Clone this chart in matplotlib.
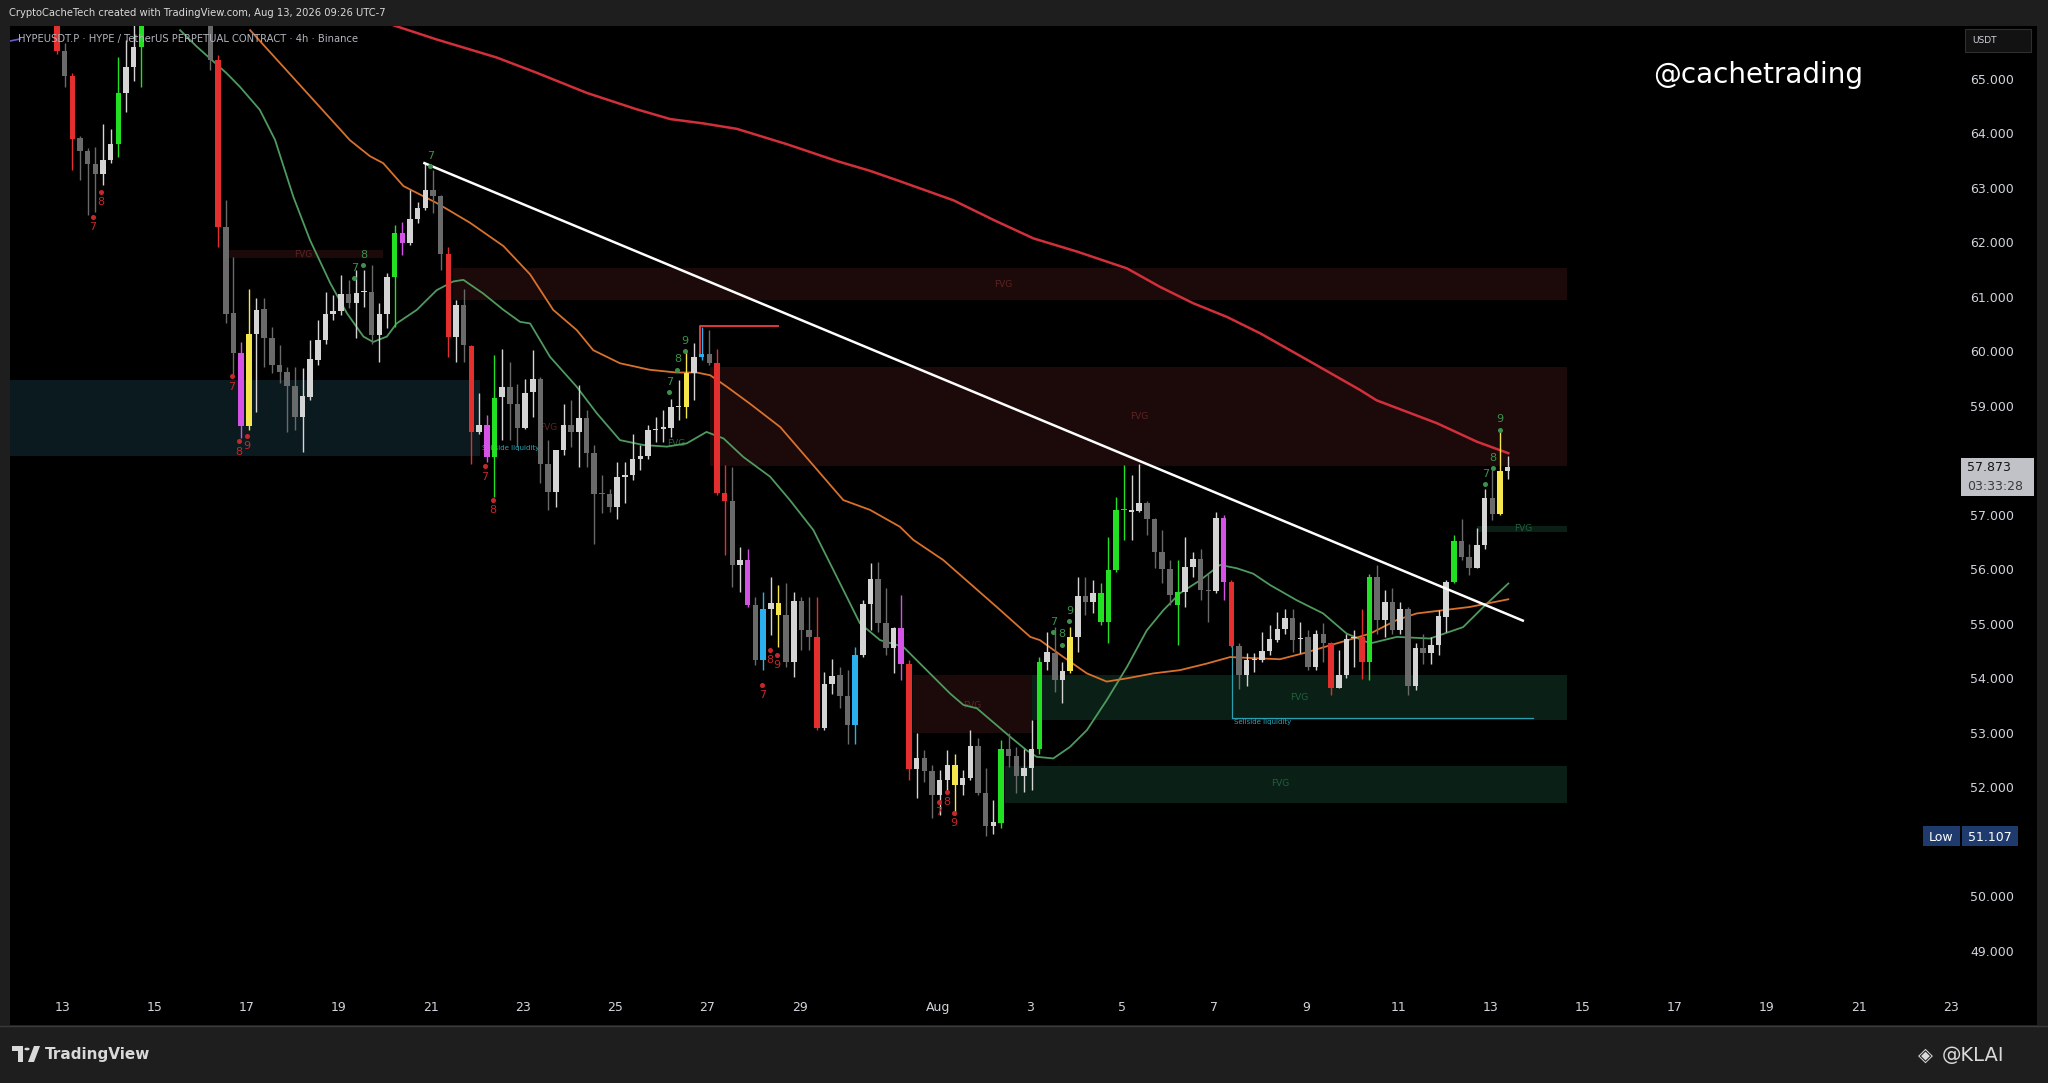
import numpy as np
import matplotlib
matplotlib.use("Agg")
import matplotlib.pyplot as plt
from matplotlib.patches import Rectangle, Circle, Polygon
from matplotlib.transforms import blended_transform_factory

plt.rcParams['font.family'] = ['DejaVu Sans']

# ------------------------------------------------------------------ data
# 4h candles, first candle index -1 (Jul 12 21:00), time in days since Jul 13 00:00
first_k = -1
open_ = [66.60, 65.50, 65.05, 63.91, 63.68, 63.43, 63.25, 63.51, 63.81, 64.73,
         65.22, 65.58, 66.60, 67.00, 66.80, 67.20, 66.90, 66.50, 66.70, 66.30,
         66.10, 65.34, 62.28, 60.71, 59.97, 58.62, 60.32, 60.77, 60.24, 59.75,
         59.62, 59.36, 58.80, 59.17, 59.84, 60.21, 60.68, 60.74, 61.05, 60.89,
         61.08, 61.09, 60.30, 60.69, 61.37, 62.17, 61.99, 62.43, 62.62, 62.95,
         62.84, 61.78, 60.27, 60.84, 60.10, 58.52, 58.65, 58.06, 59.17, 59.35,
         59.03, 58.60, 59.26, 59.50, 57.93, 57.42, 58.18, 58.65, 58.52, 58.77,
         58.13, 57.39, 57.38, 57.15, 57.70, 57.73, 58.03, 58.08, 58.55, 58.58,
         58.60, 58.97, 58.98, 59.61, 59.90, 59.95, 59.79, 57.40, 57.26, 56.08,
         56.17, 55.34, 54.33, 55.28, 55.39, 55.16, 54.30, 55.42, 54.89, 54.75,
         53.09, 53.89, 54.06, 53.67, 53.14, 54.43, 55.37, 55.82, 55.02, 54.55,
         54.92, 54.27, 52.33, 52.53, 52.30, 51.86, 52.13, 52.41, 52.04, 52.18,
         52.76, 51.89, 51.29, 51.35, 52.71, 52.57, 52.21, 52.35, 52.71, 54.30,
         54.46, 53.97, 54.13, 54.75, 55.51, 55.40, 55.56, 55.04, 55.99, 57.09,
         57.06, 57.07, 57.22, 56.92, 56.32, 56.00, 55.34, 55.59, 56.05, 56.19,
         55.62, 55.60, 56.95, 55.76, 54.60, 54.06, 54.33, 54.33, 54.50, 54.71,
         54.90, 55.10, 54.72, 54.75, 54.21, 54.81, 54.64, 53.83, 54.06, 54.74,
         54.75, 54.30, 55.86, 55.07, 55.40, 54.88, 55.28, 53.86, 54.55, 54.47,
         54.61, 55.13, 55.77, 56.52, 56.22, 56.03, 56.44, 57.30, 57.02, 57.81]
high = [66.80, 65.65, 65.10, 63.94, 63.72, 63.75, 64.16, 64.08, 65.40, 65.71,
        66.00, 66.90, 67.20, 67.40, 67.50, 67.60, 67.10, 66.90, 66.90, 66.60,
        66.30, 65.43, 62.77, 61.73, 60.17, 61.15, 60.97, 60.97, 60.45, 60.11,
        59.71, 59.71, 59.69, 60.21, 60.57, 61.09, 61.03, 61.40, 61.31, 61.49,
        61.49, 61.58, 60.88, 61.43, 62.32, 62.37, 62.96, 62.74, 63.46, 63.32,
        62.87, 61.92, 60.94, 61.15, 60.11, 59.23, 58.83, 59.93, 60.05, 59.81,
        59.40, 59.50, 60.02, 59.53, 58.37, 58.19, 59.04, 59.10, 59.38, 58.92,
        58.28, 57.73, 57.48, 57.97, 57.97, 58.49, 58.28, 58.65, 58.80, 58.92,
        59.13, 59.47, 59.99, 60.15, 60.45, 60.39, 60.05, 57.91, 57.88, 56.41,
        56.38, 55.49, 55.59, 55.86, 55.71, 55.74, 55.59, 55.50, 55.50, 55.50,
        54.12, 54.36, 54.21, 54.15, 54.58, 55.43, 56.11, 56.14, 55.65, 54.95,
        55.53, 54.33, 52.99, 52.68, 52.41, 52.32, 52.68, 52.62, 52.32, 53.05,
        52.90, 52.35, 51.77, 52.86, 52.99, 52.74, 52.71, 53.23, 54.40, 54.85,
        54.95, 54.30, 54.95, 55.86, 55.86, 55.80, 55.74, 56.60, 57.33, 57.91,
        57.73, 57.94, 57.26, 56.95, 56.72, 56.17, 56.17, 56.59, 56.32, 56.38,
        55.92, 57.06, 57.00, 55.80, 54.64, 54.46, 54.46, 54.85, 54.98, 55.22,
        55.28, 55.28, 55.04, 54.88, 54.88, 55.01, 54.67, 54.52, 54.82, 54.88,
        55.28, 55.92, 56.08, 55.62, 55.65, 55.40, 55.31, 54.64, 54.82, 54.76,
        55.25, 55.80, 56.63, 56.93, 56.47, 56.75, 57.48, 57.88, 58.52, 58.07]
low = [65.45, 64.85, 63.33, 63.14, 62.50, 62.56, 63.05, 63.45, 63.57, 64.39,
       64.95, 64.85, 66.30, 66.50, 66.60, 66.70, 66.30, 66.20, 66.10, 66.00,
       65.16, 61.92, 60.51, 59.53, 58.40, 58.55, 58.89, 59.72, 59.60, 59.41,
       58.52, 58.55, 58.16, 59.10, 59.75, 60.14, 60.57, 60.66, 60.79, 60.24,
       60.82, 60.14, 59.81, 60.42, 60.45, 61.76, 61.95, 62.35, 62.59, 62.53,
       61.49, 59.90, 59.81, 59.81, 57.94, 58.49, 57.97, 57.33, 58.37, 58.37,
       58.25, 58.58, 58.80, 57.58, 57.09, 57.15, 58.10, 58.25, 57.88, 57.88,
       56.47, 57.03, 57.06, 56.93, 57.21, 57.64, 57.82, 58.03, 58.34, 58.34,
       58.43, 58.74, 58.77, 59.10, 59.84, 59.75, 57.36, 56.26, 55.68, 55.59,
       55.31, 54.25, 54.15, 54.80, 54.58, 54.21, 54.03, 54.52, 54.52, 53.05,
       53.05, 53.72, 53.45, 52.80, 52.80, 54.40, 54.88, 54.85, 54.43, 54.09,
       53.97, 52.13, 51.80, 52.10, 51.43, 51.49, 51.89, 51.49, 51.86, 52.13,
       51.86, 51.107, 51.15, 51.25, 52.38, 51.89, 51.92, 51.95, 52.62, 54.15,
       53.75, 53.54, 54.09, 54.49, 55.16, 55.19, 54.98, 54.64, 55.95, 56.54,
       56.54, 57.05, 56.63, 56.02, 55.74, 55.34, 54.61, 55.31, 55.86, 55.43,
       55.04, 55.56, 55.43, 54.58, 53.81, 53.85, 54.12, 54.30, 54.43, 54.66,
       54.82, 54.49, 54.46, 54.15, 54.15, 54.30, 53.69, 53.82, 54.00, 54.21,
       53.98, 53.97, 54.82, 54.76, 54.82, 54.82, 53.69, 53.78, 54.27, 54.27,
       54.43, 54.85, 55.74, 56.17, 55.89, 56.02, 56.38, 56.90, 56.99, 57.65]
close = [65.50, 65.05, 63.89, 63.68, 63.43, 63.25, 63.51, 63.81, 64.73, 65.22,
         65.58, 66.60, 67.00, 66.80, 67.20, 66.90, 66.50, 66.70, 66.30, 66.10,
         65.34, 62.28, 60.69, 59.97, 58.62, 60.32, 60.76, 60.24, 59.75, 59.62,
         59.36, 58.80, 59.18, 59.85, 60.21, 60.68, 60.74, 61.05, 60.89, 61.06,
         61.09, 60.30, 60.69, 61.37, 62.17, 61.99, 62.43, 62.62, 62.95, 62.84,
         61.78, 60.27, 60.84, 60.11, 58.52, 58.65, 58.06, 59.15, 59.35, 59.04,
         58.60, 59.24, 59.50, 57.93, 57.42, 58.18, 58.65, 58.52, 58.77, 58.13,
         57.39, 57.38, 57.15, 57.70, 57.73, 58.03, 58.08, 58.55, 58.58, 58.60,
         58.98, 59.00, 59.61, 59.90, 59.95, 59.79, 57.40, 57.26, 56.08, 56.17,
         55.34, 54.33, 55.28, 55.39, 55.16, 54.30, 55.42, 54.89, 54.75, 53.09,
         53.89, 54.04, 53.67, 53.14, 54.43, 55.37, 55.82, 55.02, 54.55, 54.92,
         54.27, 52.33, 52.53, 52.30, 51.86, 52.13, 52.41, 52.04, 52.18, 52.76,
         51.89, 51.29, 51.37, 52.71, 52.57, 52.21, 52.35, 52.71, 54.30, 54.49,
         53.97, 54.13, 54.75, 55.51, 55.40, 55.56, 55.04, 55.99, 57.09, 57.08,
         57.08, 57.22, 56.92, 56.32, 56.00, 55.53, 55.59, 56.05, 56.19, 55.62,
         55.60, 56.95, 55.76, 54.60, 54.06, 54.33, 54.36, 54.50, 54.72, 54.91,
         55.10, 54.71, 54.73, 54.21, 54.81, 54.64, 53.83, 54.06, 54.73, 54.76,
         54.30, 55.86, 55.07, 55.40, 54.88, 55.28, 53.86, 54.55, 54.47, 54.61,
         55.14, 55.77, 56.52, 56.22, 56.03, 56.44, 57.30, 57.02, 57.81, 57.873]
# candle colour category: d=bear grey, u=bull light, r=red, g=green, m=magenta, y=yellow, b=blue
kinds = ("rdrddduugu" "ugududdudd" "drddmyuddd" "dduuuuuudu" "uduugmuuud"
         "drudrumgud" "duudduudud" "ddduuuuuuu" "uuyubdrrdu" "mdbuyduddr"
         "uuddbuuddu" "mrudduuyuu" "ddugdduugu" "duyudugggg" "uuddddguud"
         "dumrduuuuu" "udududruuu" "rgdudududu" "uugdduudyu")

# moving averages (days, price)
green_t = [2.55, 2.91, 3.56, 3.85, 4.28, 4.61, 5.01, 5.37, 5.81, 6.17, 6.53, 6.74, 7.04,
           7.25, 7.69, 8.12, 8.48, 8.70, 9.13, 9.57, 9.93, 10.15, 10.58, 11.16, 11.60,
           12.10, 12.61, 13.12, 13.55, 13.98, 14.35, 14.78, 15.36, 15.79, 16.30, 16.81,
           17.31, 17.75, 18.25, 18.76, 19.27, 19.56, 19.85, 20.28, 20.57, 20.93, 21.15,
           21.51, 21.87, 22.24, 22.67, 23.11, 23.54, 23.90, 24.26, 24.70, 25.13, 25.49,
           25.85, 26.22, 26.80, 27.37, 27.88, 28.39, 28.97, 29.69, 30.41, 30.85, 31.39]
green_p = [65.89, 65.59, 65.10, 64.85, 64.43, 63.88, 62.83, 62.04, 61.25, 60.70, 60.27, 60.17, 60.27,
           60.51, 60.76, 61.12, 61.28, 61.31, 61.06, 60.76, 60.54, 60.51, 59.90, 59.35, 58.86,
           58.37, 58.28, 58.25, 58.31, 58.52, 58.40, 58.06, 57.70, 57.27, 56.72, 55.86,
           55.01, 54.70, 54.58, 54.15, 53.72, 53.51, 53.45, 53.14, 52.93, 52.68, 52.56,
           52.53, 52.74, 53.05, 53.60, 54.21, 54.88, 55.25, 55.56, 55.80, 56.08, 56.02,
           55.92, 55.71, 55.43, 55.19, 54.82, 54.64, 54.76, 54.73, 54.94, 55.31, 55.74]
orange_t = [4.07, 6.24, 6.67, 6.96, 7.40, 8.12, 8.84, 9.57, 10.15, 10.65, 11.16, 11.52, 12.10,
            12.75, 13.33, 13.77, 14.06, 14.42, 14.92, 15.58, 16.95, 17.53, 18.18, 18.47,
            19.12, 19.70, 20.28, 21.01, 21.22, 21.73, 22.24, 22.67, 23.11, 23.68, 24.26,
            24.84, 25.35, 25.85, 26.43, 26.94, 27.66, 28.39, 28.97, 29.40, 29.98, 30.56, 31.39]
orange_p = [65.89, 63.87, 63.58, 63.45, 63.03, 62.72, 62.36, 61.93, 61.41, 60.76, 60.39, 60.02, 59.78,
            59.66, 59.61, 59.61, 59.56, 59.35, 59.04, 58.61, 57.27, 57.09, 56.78, 56.54,
            56.17, 55.74, 55.31, 54.76, 54.70, 54.39, 54.09, 53.94, 54.00, 54.09, 54.15,
            54.27, 54.39, 54.37, 54.35, 54.46, 54.64, 54.82, 55.07, 55.19, 55.25, 55.31, 55.45]
red_t = [6.00, 7.22, 8.12, 9.42, 10.29, 11.38, 12.46, 13.19, 13.91, 14.64, 15.72, 16.81, 17.53,
         18.11, 19.34, 20.21, 21.08, 22.02, 23.11, 23.83, 24.55, 25.28, 26.00, 27.09, 28.17,
         28.53, 29.84, 30.71, 31.39]
red_p = [66.35, 65.97, 65.72, 65.39, 65.11, 64.74, 64.44, 64.26, 64.18, 64.08, 63.80, 63.49, 63.31,
         63.14, 62.77, 62.41, 62.07, 61.83, 61.52, 61.18, 60.88, 60.63, 60.33, 59.81, 59.29,
         59.10, 58.68, 58.34, 58.13]

# trend line
trend_t = [7.83, 31.73]
trend_p = [63.46, 55.05]

# FVG / liquidity zones
zone_t0 = [8.47, 14.06, 3.60, -1.144, 21.04, 18.46, 20.46, 30.71]
zone_t1 = [32.67, 32.67, 6.96, 9.06, 32.67, 21.04, 32.67, 32.67]
zone_lo = [60.94, 57.90, 61.71, 58.07, 53.24, 52.99, 51.71, 56.69]
zone_hi = [61.53, 59.72, 61.86, 59.47, 54.06, 54.06, 52.39, 56.80]
zone_kind = ['r', 'r', 'r', 't', 'g', 'r', 'g', 'g']
fvg_label_t = [20.42, 23.37, 5.22, 26.86, 26.44, 31.72, 19.74, 10.54, 13.33]
fvg_label_p = [61.23, 58.80, 61.77, 53.65, 52.07, 56.74, 53.51, 58.61, 58.30]
fvg_label_kind = ['r', 'r', 'r', 'g', 'g', 'g', 'r', 'r', 'g']
liq_label_t = [9.10, 25.44]
liq_label_p = [58.22, 53.20]
liq_t = [25.38, 25.38, 31.93]
liq_p = [54.61, 53.27, 53.27]
level_t = [13.84, 13.84, 15.53]
level_p = [59.97, 60.46, 60.46]

# sequential counts
td_red_txt = ['7', '8', '7', '8', '9', '7', '8', '7', '8', '9', '7', '8', '9']
td_red_t = [0.65, 0.83, 3.67, 3.82, 4.00, 9.17, 9.34, 15.19, 15.36, 15.51, 19.03, 19.20, 19.36]
td_red_p = [62.28, 62.74, 59.35, 58.16, 58.26, 57.70, 57.09, 53.69, 54.33, 54.24, 51.55, 51.73, 51.34]
td_grn_txt = ['7', '8', '7', '7', '8', '9', '7', '8', '9', '7', '8', '9']
td_grn_t = [6.33, 6.53, 7.98, 13.17, 13.35, 13.51, 21.51, 21.69, 21.86, 30.89, 31.05, 31.21]
td_grn_p = [61.53, 61.77, 63.58, 59.44, 59.85, 60.19, 55.04, 54.81, 55.24, 57.75, 58.05, 58.75]

date_tick_days = [0, 2, 4, 6, 8, 10, 12, 14, 16, 19, 21, 23, 25, 27, 29, 31, 33, 35, 37, 39, 41]
date_tick_labels = ['13', '15', '17', '19', '21', '23', '25', '27', '29', 'Aug', '3', '5', '7',
                    '9', '11', '13', '15', '17', '19', '21', '23']
price_ticks = list(range(49, 66))
hidden_price_ticks = [51, 58]          # covered by the Low / last-price labels
last_price = 57.873
countdown = '03:33:28'
low_price = 51.107

# ------------------------------------------------------------------ layout
W, H = 2048, 1083
L, R, T, B = 10, 2037, 26, 1025
fig = plt.figure(figsize=(W / 100, H / 100), dpi=100, facecolor='#1e1e1e')
ax = fig.add_axes([L / W, 1 - B / H, (R - L) / W, (B - T) / H])
ax.set_facecolor('#000000')
ax.set_xlim(-1.144, 42.87)
ax.set_ylim(47.64, 65.967)
for s in ax.spines.values():
    s.set_visible(False)


def fx(px):
    return (px - L) / (R - L)


def fy(py):
    return (B - py) / (B - T)


trans = blended_transform_factory(ax.transAxes, ax.transData)

# zones
zone_fc = {'r': '#1c0909', 'g': '#0a1f15', 't': '#0b1a1e'}
for t0, t1, lo, hi, k in zip(zone_t0, zone_t1, zone_lo, zone_hi, zone_kind):
    ax.add_patch(Rectangle((t0, lo), t1 - t0, hi - lo, facecolor=zone_fc[k],
                           edgecolor='none', zorder=1))
lab_col = {'r': '#5e2323', 'g': '#21613d'}
for t, p, k in zip(fvg_label_t, fvg_label_p, fvg_label_kind):
    ax.text(t, p, 'FVG', color=lab_col[k], fontsize=6.5, ha='center', va='center', zorder=2)
for t, p in zip(liq_label_t, liq_label_p):
    ax.text(t, p, 'Sellside liquidity', color='#2aa6b8', fontsize=5, ha='left',
            va='center', zorder=2)
ax.plot(liq_t, liq_p, color='#2a9fb0', lw=0.9, zorder=2)
ax.plot(level_t, level_p, color='#e03a3a', lw=1.4, zorder=2)

# moving averages
ax.plot(green_t, green_p, color='#4f9a5f', lw=1.3, zorder=3)
ax.plot(orange_t, orange_p, color='#d8712c', lw=1.3, zorder=3)
ax.plot(red_t, red_p, color='#d22f3c', lw=1.8, zorder=3)

# candles
COL = {'d': '#6a6a6a', 'u': '#d4d4d4', 'r': '#e3302e', 'g': '#22e022',
       'm': '#d552e6', 'y': '#f4e64b', 'b': '#2ab0ec'}
n = len(close)
k_idx = np.arange(first_k, first_k + n)
xt = (4 * k_idx + 1) / 24.0
o = np.array(open_)
h = np.array(high)
lo_ = np.array(low)
c = np.array(close)
cols = [COL[kinds[i]] for i in range(n)]
ax.vlines(xt, lo_, h, colors=cols, lw=1.0, zorder=4)
ax.bar(xt, np.maximum(np.abs(c - o), 0.025), width=0.12, bottom=np.minimum(o, c),
       color=cols, edgecolor='none', zorder=5)

# trend line
ax.plot(trend_t, trend_p, color='#ffffff', lw=1.8, zorder=6, solid_capstyle='butt')

# sequential counts
for s, t, p in zip(td_red_txt, td_red_t, td_red_p):
    ax.text(t, p, s, color='#c4282a', fontsize=8, ha='center', va='center', zorder=7)
    ax.plot(t, p + 0.19, 'o', color='#c4282a', ms=2.6, zorder=7)
for s, t, p in zip(td_grn_txt, td_grn_t, td_grn_p):
    ax.text(t, p, s, color='#3f8f4f', fontsize=8, ha='center', va='center', zorder=7)
    ax.plot(t, p - 0.19, 'o', color='#3f8f4f', ms=2.6, zorder=7)

# axes ticks
ax.yaxis.tick_right()
ax.set_yticks(price_ticks)
ax.set_yticklabels(['' if v in hidden_price_ticks else f"{v:.3f}" for v in price_ticks])
ax.tick_params(axis='y', length=0, pad=-48, labelsize=9, labelcolor='#d1d4dc')
ax.set_xticks(date_tick_days)
ax.set_xticklabels(date_tick_labels)
ax.tick_params(axis='x', length=0, pad=-17, labelsize=9, labelcolor='#d1d4dc')

# last price label
ax.add_patch(Rectangle((fx(1961), last_price - 0.53), fx(2034) - fx(1961), 0.70,
                       transform=trans, facecolor='#c0c2c7', edgecolor='none', zorder=10))
ax.text(fx(1967), last_price - 0.005, f"{last_price:.3f}", transform=trans, color='#151515',
        fontsize=9, ha='left', va='center', zorder=11)
ax.text(fx(1967), last_price - 0.35, countdown, transform=trans, color='#3a3a3a',
        fontsize=9, ha='left', va='center', zorder=11)

# low label
ax.add_patch(Rectangle((fx(1923), low_price - 0.19), fx(1960) - fx(1923), 0.38,
                       transform=trans, facecolor='#1f3b6e', edgecolor='none', zorder=10))
ax.add_patch(Rectangle((fx(1962), low_price - 0.19), fx(2018) - fx(1962), 0.38,
                       transform=trans, facecolor='#1f3b6e', edgecolor='none', zorder=10))
ax.text(fx(1941.5), low_price - 0.02, 'Low', transform=trans, color='white', fontsize=9,
        ha='center', va='center', zorder=11)
ax.text(fx(1990), low_price - 0.02, f"{low_price:.3f}", transform=trans, color='white',
        fontsize=9, ha='center', va='center', zorder=11)

# currency box
ax.add_patch(Rectangle((fx(1965), fy(52)), fx(2031) - fx(1965), fy(29) - fy(52),
                       transform=ax.transAxes, facecolor='#121212', edgecolor='#2f2f2f',
                       lw=0.8, zorder=10))
ax.text(fx(1972), fy(40.5), 'USDT', transform=ax.transAxes, color='#d1d4dc', fontsize=6.5,
        ha='left', va='center', zorder=11)

# watermark + legend
ax.text(fx(1758), fy(75), '@cachetrading', transform=ax.transAxes, color='white',
        fontsize=20, ha='center', va='center', zorder=11)
ax.plot([fx(10), fx(20)], [fy(41), fy(39)], transform=ax.transAxes, color='#6a5acd', lw=1.2,
        zorder=11)
ax.text(fx(18), fy(39), 'HYPEUSDT.P · HYPE / TetherUS PERPETUAL CONTRACT · 4h · Binance',
        transform=ax.transAxes, color='#b2b5be', fontsize=7.2, ha='left', va='center', zorder=11)

# header / footer
fig.text(9 / W, 1 - 13 / H, 'CryptoCacheTech created with TradingView.com, Aug 13, 2026 09:26 UTC-7',
         color='#d9d9d9', fontsize=7.2, ha='left', va='center')
fig.add_artist(plt.Line2D([0, 1], [1 - 1026 / H, 1 - 1026 / H], color='#3a3a3a', lw=1,
                          transform=fig.transFigure))


def P(x, y):
    return (x / W, 1 - y / H)


logo_col = '#d9d9d9'
fig.add_artist(Polygon([P(12, 1046), P(23, 1046), P(23, 1062), P(18, 1062), P(18, 1051), P(12, 1051)],
                       closed=True, transform=fig.transFigure, facecolor=logo_col, edgecolor='none'))
fig.add_artist(Circle(P(27, 1049), 2.6 / W, transform=fig.transFigure, facecolor=logo_col,
                      edgecolor='none'))
fig.add_artist(Polygon([P(34, 1046), P(40, 1046), P(34, 1062), P(28, 1062)], closed=True,
                       transform=fig.transFigure, facecolor=logo_col, edgecolor='none'))
fig.text(45 / W, 1 - 1054 / H, 'TradingView', color=logo_col, fontsize=11, fontweight='bold',
         ha='left', va='center')
fig.text(1925 / W, 1 - 1055 / H, '◈', color=logo_col, fontsize=14, ha='center', va='center')
fig.text(1942 / W, 1 - 1055 / H, '@KLAI', color=logo_col, fontsize=14, ha='left', va='center')

fig.savefig('out.png', dpi=100, facecolor=fig.get_facecolor())
